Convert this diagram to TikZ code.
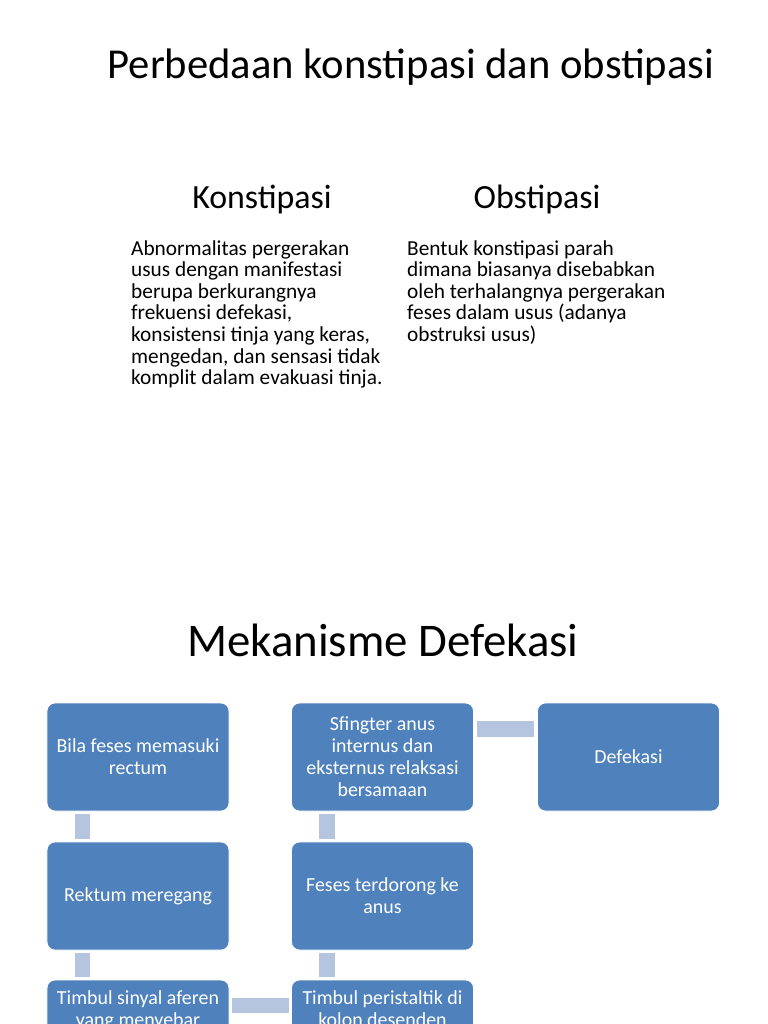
\documentclass[tikz,border=0pt]{standalone}
\usepackage{fontspec}
\setmainfont{Carlito}
\usepackage{tikz}
\usetikzlibrary{positioning}
\definecolor{flowBlue}{RGB}{79, 129, 189}
\definecolor{barBlue}{RGB}{181, 196, 223}

\tikzset{
  flowbox/.style={rectangle, rounded corners=8bp, fill=flowBlue, draw=white, line width=0.8bp,
    minimum width=182bp, minimum height=108bp, align=center, text=white,
    inner sep=0pt, font=\fontsize{20}{22}\selectfont},
  boxtext/.style={text=white, align=center, inner sep=0pt, font=\fontsize{20}{22}\selectfont},
  linkbar/.style={barBlue, line width=15.5bp},
  bodytext/.style={anchor=north west, inner sep=0pt, align=left, font=\fontsize{21.4}{21.7}\selectfont},
  subjudul/.style={anchor=base, font=\fontsize{34}{40}\selectfont}
}

\begin{document}
\begin{tikzpicture}[x=1bp, y=-1bp]
      \useasboundingbox (0,0) rectangle (768,1024);
      \clip (0,0) rectangle (768,1024);

      % Upper slide
      \node[font=\fontsize{42.8}{50}\selectfont] (judul) at (411,67) {Perbedaan konstipasi dan obstipasi};
      \node[subjudul] (kons) at (262,208) {Konstipasi};
      \node[subjudul] (obs) at (537,208) {Obstipasi};

      \node[bodytext] (konsdef) at (131,240) {Abnormalitas pergerakan\\usus dengan manifestasi\\berupa berkurangnya\\frekuensi defekasi,\\konsistensi tinja yang keras,\\mengedan, dan sensasi tidak\\komplit dalam evakuasi tinja.};
      \node[bodytext] (obsdef) at (407,240) {Bentuk konstipasi parah\\dimana biasanya disebabkan\\oleh terhalangnya pergerakan\\feses dalam usus (adanya\\obstruksi usus)};

      % Lower slide
      \node[font=\fontsize{47}{54}\selectfont] (mek) at (383,640) {Mekanisme Defekasi};

      \node[flowbox] (b1) at (138,757) {Bila feses memasuki\\rectum};
      \node[flowbox] (b2) at (382.5,757) {Sfingter anus\\internus dan\\eksternus relaksasi\\bersamaan};
      \node[flowbox] (b3) at (628.5,757) {Defekasi};
      \node[flowbox] (b4) at (138,896) {Rektum meregang};
      \node[flowbox] (b5) at (382.5,896) {Feses terdorong ke\\anus};
      \node[flowbox] (b6) at (138,1034) {};
      \node[flowbox] (b7) at (382.5,1034) {};
      \node[boxtext, below=11bp of b6.north] (t6) {Timbul sinyal aferen\\yang menyebar};
      \node[boxtext, below=11bp of b7.north] (t7) {Timbul peristaltik di\\kolon desenden};

      % Connector bars
      \draw[linkbar] ([xshift=36bp,yshift=-3bp]b1.south west) -- ([xshift=36bp,yshift=3bp]b4.north west);
      \draw[linkbar] ([xshift=36bp,yshift=-3bp]b4.south west) -- ([xshift=36bp,yshift=3bp]b6.north west);
      \draw[linkbar] ([xshift=3bp,yshift=-26bp]b6.north east) -- ([xshift=-2bp,yshift=-26bp]b7.north west);
      \draw[linkbar] ([xshift=36bp,yshift=3bp]b7.north west) -- ([xshift=36bp,yshift=-3bp]b5.south west);
      \draw[linkbar] ([xshift=36bp,yshift=3bp]b5.north west) -- ([xshift=36bp,yshift=-3bp]b2.south west);
      \draw[linkbar] ([xshift=3bp,yshift=-26.5bp]b2.north east) -- ([xshift=-3bp,yshift=-26.5bp]b3.north west);
    \end{tikzpicture}
\end{document}
